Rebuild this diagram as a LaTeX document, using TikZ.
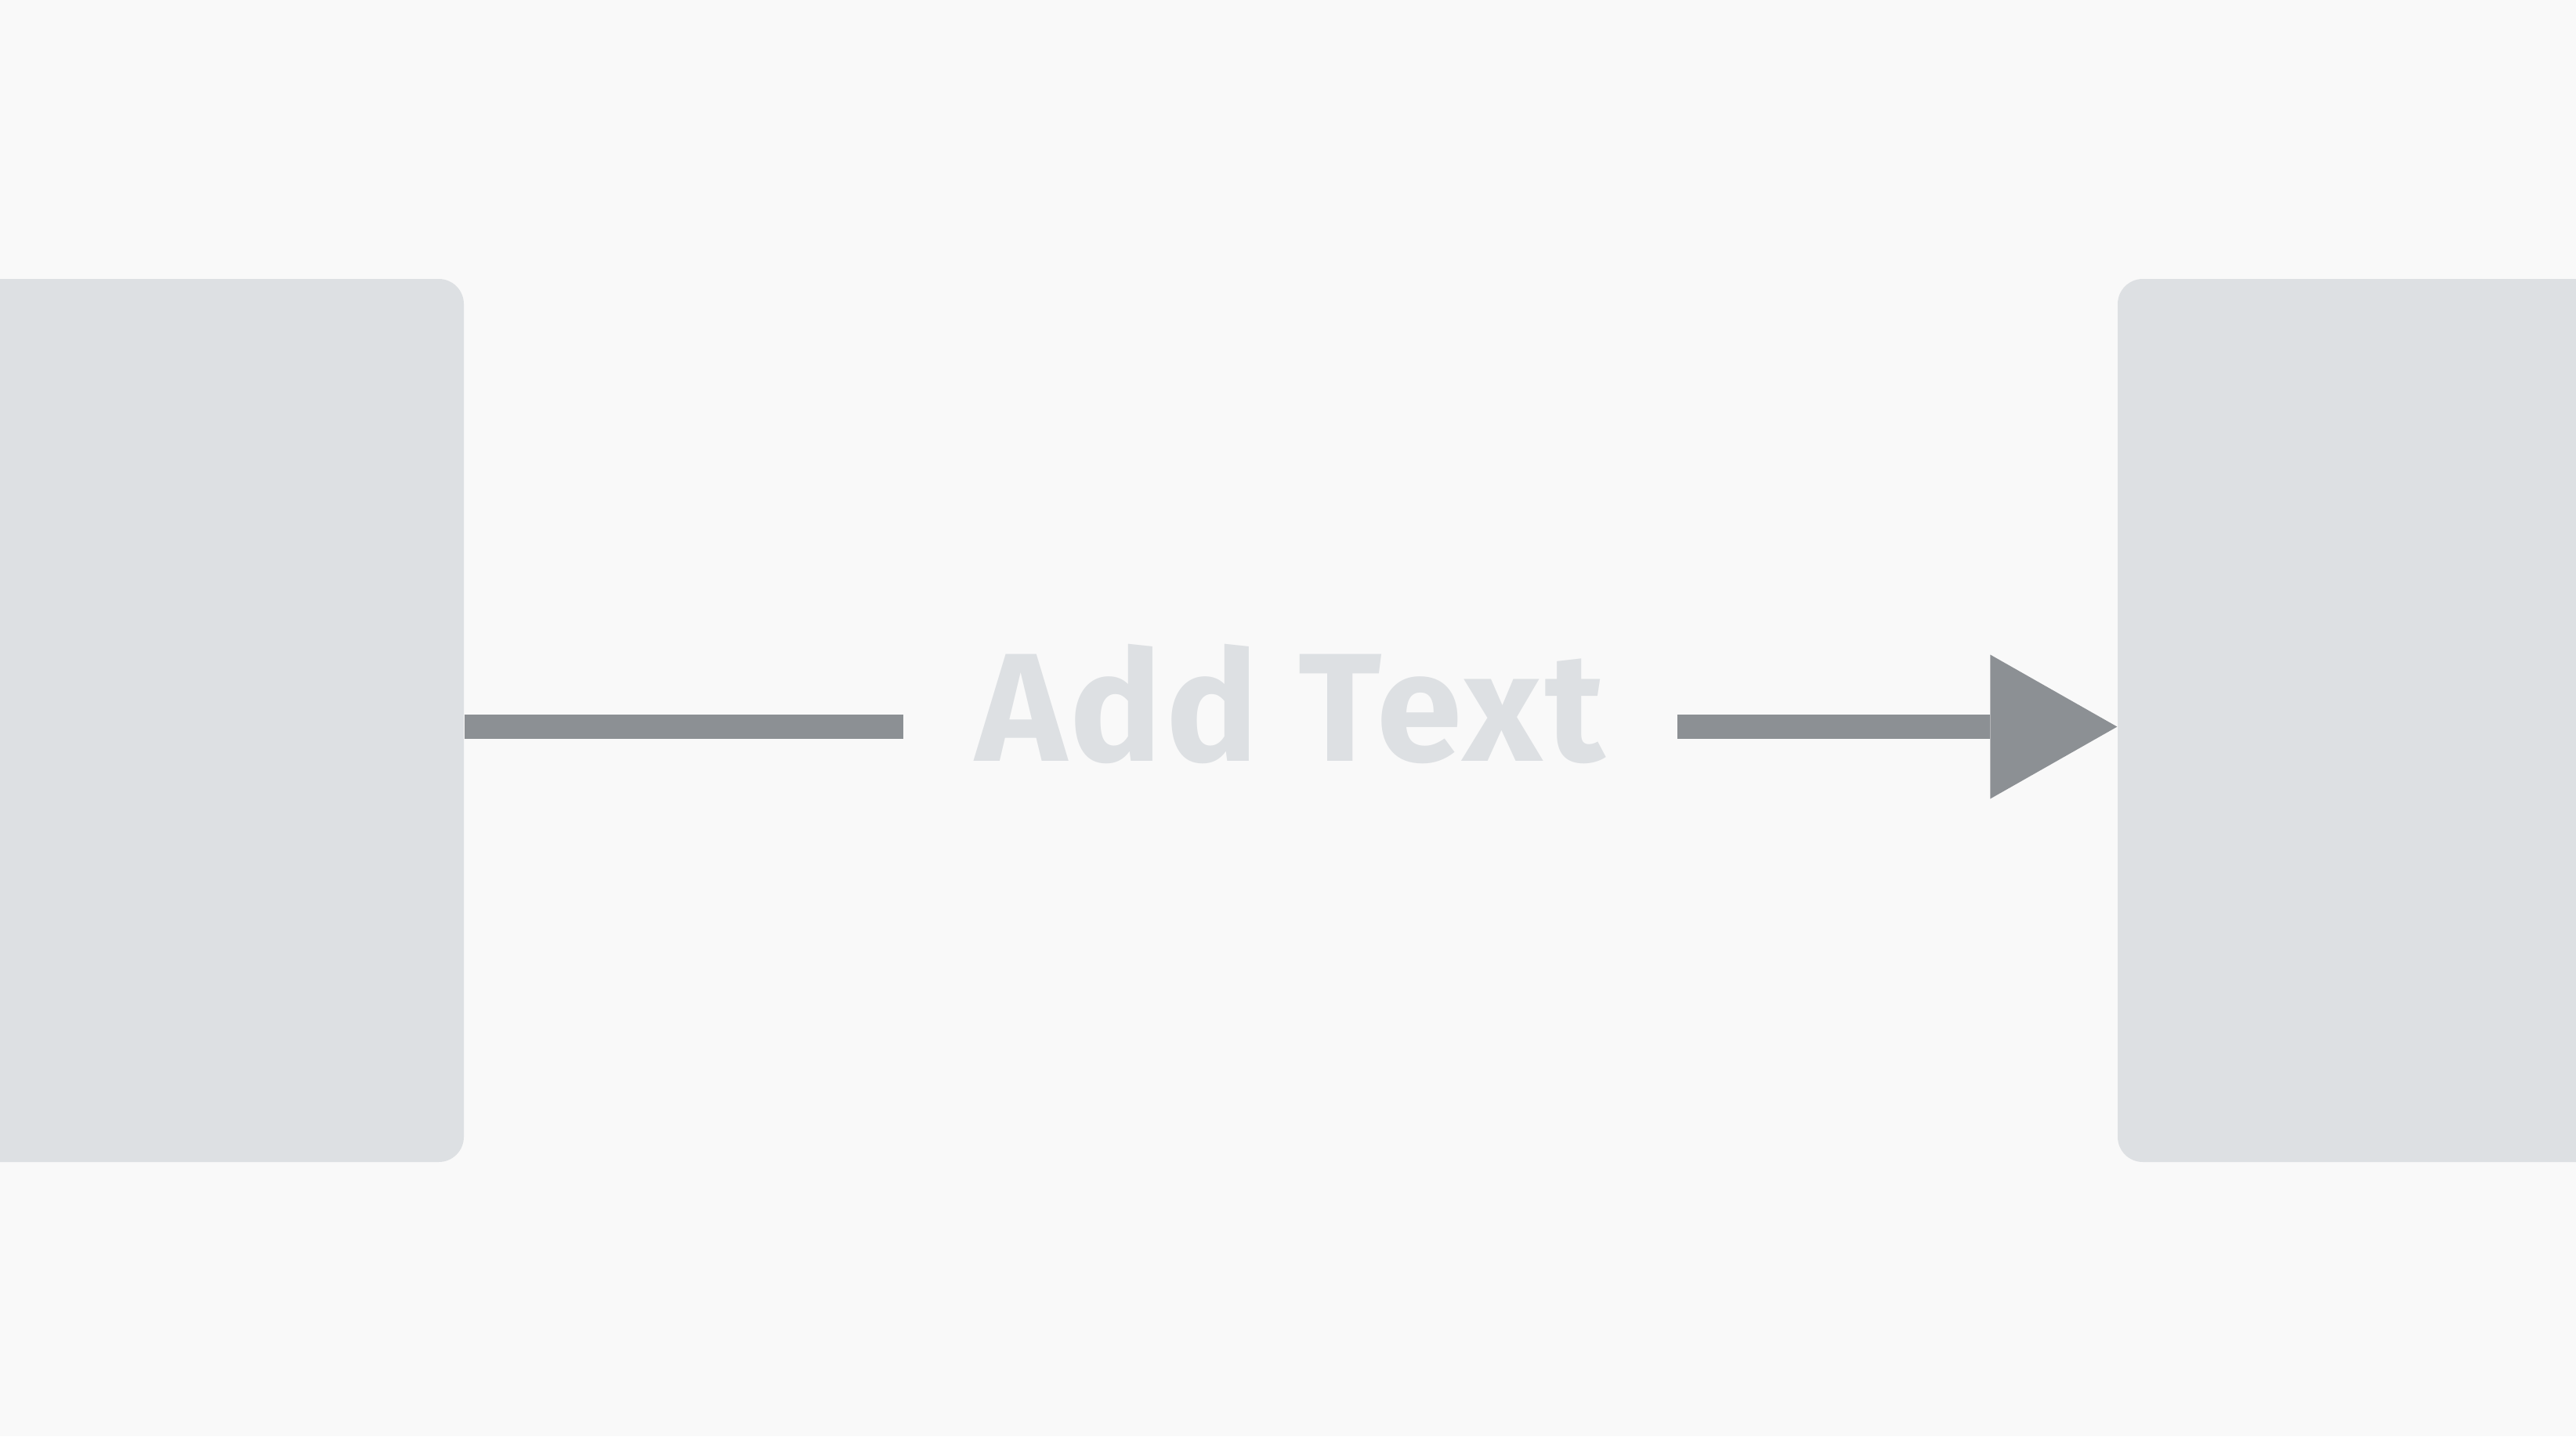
\documentclass[tikz,border=0pt]{standalone}
\usepackage{fontspec}
\setmainfont{Fira Sans}
\usetikzlibrary{arrows.meta}
\definecolor{bgc}{HTML}{F9F9F9}
\definecolor{boxc}{HTML}{DDE0E3}
\definecolor{linec}{HTML}{8C9094}
\tikzset{
  boxnode/.style={fill=boxc, draw=none, rounded corners=0.32cm, inner sep=0pt, minimum width=7cm, minimum height=11.27cm},
  lblnode/.style={text=boxc, font=\fontsize{56}{60}\selectfont\bfseries\addfontfeature{LetterSpace=2.2}, inner sep=0pt, minimum width=9.86cm, anchor=base},
  conn/.style={draw=linec, line width=0.315cm},
  arrowconn/.style={conn, -{Triangle[length=1.62cm, width=1.84cm, line width=0pt]}}
}
\begin{document}
\begin{tikzpicture}
\useasboundingbox (0,0) rectangle (32.88,-18.33);
\fill[bgc] (0,0) rectangle (32.88,-18.33);
\clip (0,0) rectangle (32.88,-18.33);
\node[boxnode] (L) at (2.42,-9.195) {};
\node[boxnode] (R) at (30.53,-9.195) {};
\node[lblnode] (lbl) at (16.47,-9.71) {Add Text};
\coordinate (ly) at (0,-9.275);
\draw[conn] (L.east |- ly) -- (lbl.west |- ly);
\draw[arrowconn] (lbl.east |- ly) -- (R.west |- ly);
\end{tikzpicture}
\end{document}
